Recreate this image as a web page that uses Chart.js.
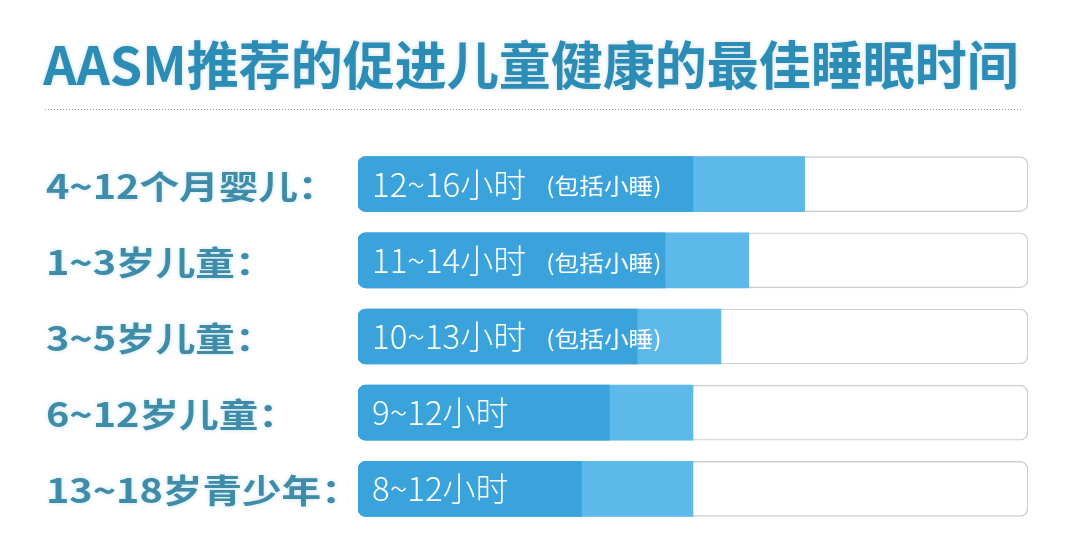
<!DOCTYPE html>
<html><head><meta charset="utf-8">
<script src="https://cdn.jsdelivr.net/npm/chart.js@4/dist/chart.umd.min.js"></script>
<style>html,body{margin:0;padding:0;background:#fff;overflow:hidden}#wrap{width:1080px;height:559px;position:relative}</style>
</head><body><div id="wrap"><canvas id="c" width="1080" height="559"></canvas></div>
<script>
const titleText = 'AASM推荐的促进儿童健康的最佳睡眠时间';
const categories = ['4~12个月婴儿：', '1~3岁儿童：', '3~5岁儿童：', '6~12岁儿童：', '13~18岁青少年：'];
const minHours = [12, 11, 10, 9, 8];
const maxHours = [16, 14, 13, 12, 12];
const dayHours = [24, 24, 24, 24, 24];
const rangeLabels = ['12~16小时', '11~14小时', '10~13小时', '9~12小时', '8~12小时'];
const noteLabels = ['(包括小睡)', '(包括小睡)', '(包括小睡)', '', ''];

const CJK = '"Noto Sans CJK SC", "Noto Sans", sans-serif';

const textPlugin = {
  id: 'textPlugin',
  afterDatasetsDraw(chart) {
    const ctx = chart.ctx;
    const xs = chart.scales.x, ys = chart.scales.y;
    ctx.save();
    // title
    ctx.font = 'bold 52px ' + CJK;
    ctx.fillStyle = '#2b8cb5';
    ctx.textAlign = 'center';
    ctx.textBaseline = 'middle';
    ctx.shadowColor = 'rgba(40,120,160,0.25)';
    ctx.shadowBlur = 4;
    ctx.fillText(titleText, 531, 65);
    ctx.shadowBlur = 0;
    ctx.shadowColor = 'transparent';
    // dotted separator
    ctx.strokeStyle = '#9a9a9a';
    ctx.lineWidth = 1;
    ctx.setLineDash([1, 2]);
    ctx.beginPath();
    ctx.moveTo(45, 109.5);
    ctx.lineTo(1022, 109.5);
    ctx.stroke();
    ctx.setLineDash([]);
    // category labels
    ctx.textAlign = 'left';
    categories.forEach((c, i) => {
      const y = ys.getPixelForValue(i) + 2;
      ctx.save();
      ctx.translate(46, y);
      ctx.scale(1.2, 1);
      ctx.font = 'bold 33px ' + CJK;
      ctx.fillStyle = '#3f8ca8';
      ctx.shadowColor = 'rgba(80,170,210,0.35)';
      ctx.shadowBlur = 4;
      ctx.fillText(c, 0, 0);
      ctx.restore();
    });
    // in-bar labels
    const x0 = xs.getPixelForValue(0) + 14;
    rangeLabels.forEach((t, i) => {
      const y = ys.getPixelForValue(i);
      ctx.fillStyle = '#ffffff';
      ctx.font = '300 33px ' + CJK;
      ctx.fillText(t, x0, y);
      const w = ctx.measureText(t).width;
      if (noteLabels[i]) {
        ctx.save();
        ctx.translate(x0 + w + 20, y + 2);
        ctx.scale(1.12, 1);
        ctx.font = '22px ' + CJK;
        ctx.fillText(noteLabels[i], 0, 0);
        ctx.restore();
      }
    });
    ctx.restore();
  }
};

const leftRadius = {topLeft: 8, bottomLeft: 8, topRight: 0, bottomRight: 0};

new Chart(document.getElementById('c'), {
  type: 'bar',
  data: {
    labels: categories,
    datasets: [
      {label: 'min', data: minHours, backgroundColor: '#3aa3dc', borderWidth: 0, borderRadius: leftRadius, borderSkipped: false, barThickness: 55, stack: 's', order: 1},
      {label: 'max', data: maxHours, backgroundColor: '#5cb9e9', borderWidth: 0, borderRadius: leftRadius, borderSkipped: false, barThickness: 55, stack: 's', order: 2},
      {label: 'day', data: dayHours, backgroundColor: '#ffffff', borderColor: '#cfcfcf', borderWidth: 1.4, borderRadius: 8, borderSkipped: false, barThickness: 55, stack: 's', order: 3}
    ]
  },
  options: {
    indexAxis: 'y',
    responsive: false,
    animation: false,
    devicePixelRatio: 1,
    layout: {padding: {left: 358, right: 52, top: 146, bottom: 32}},
    scales: {
      x: {min: 0, max: 24, display: false, stacked: false},
      y: {display: false, stacked: true}
    },
    plugins: {legend: {display: false}, tooltip: {enabled: false}, title: {display: false}}
  },
  plugins: [textPlugin]
});
</script></body></html>
